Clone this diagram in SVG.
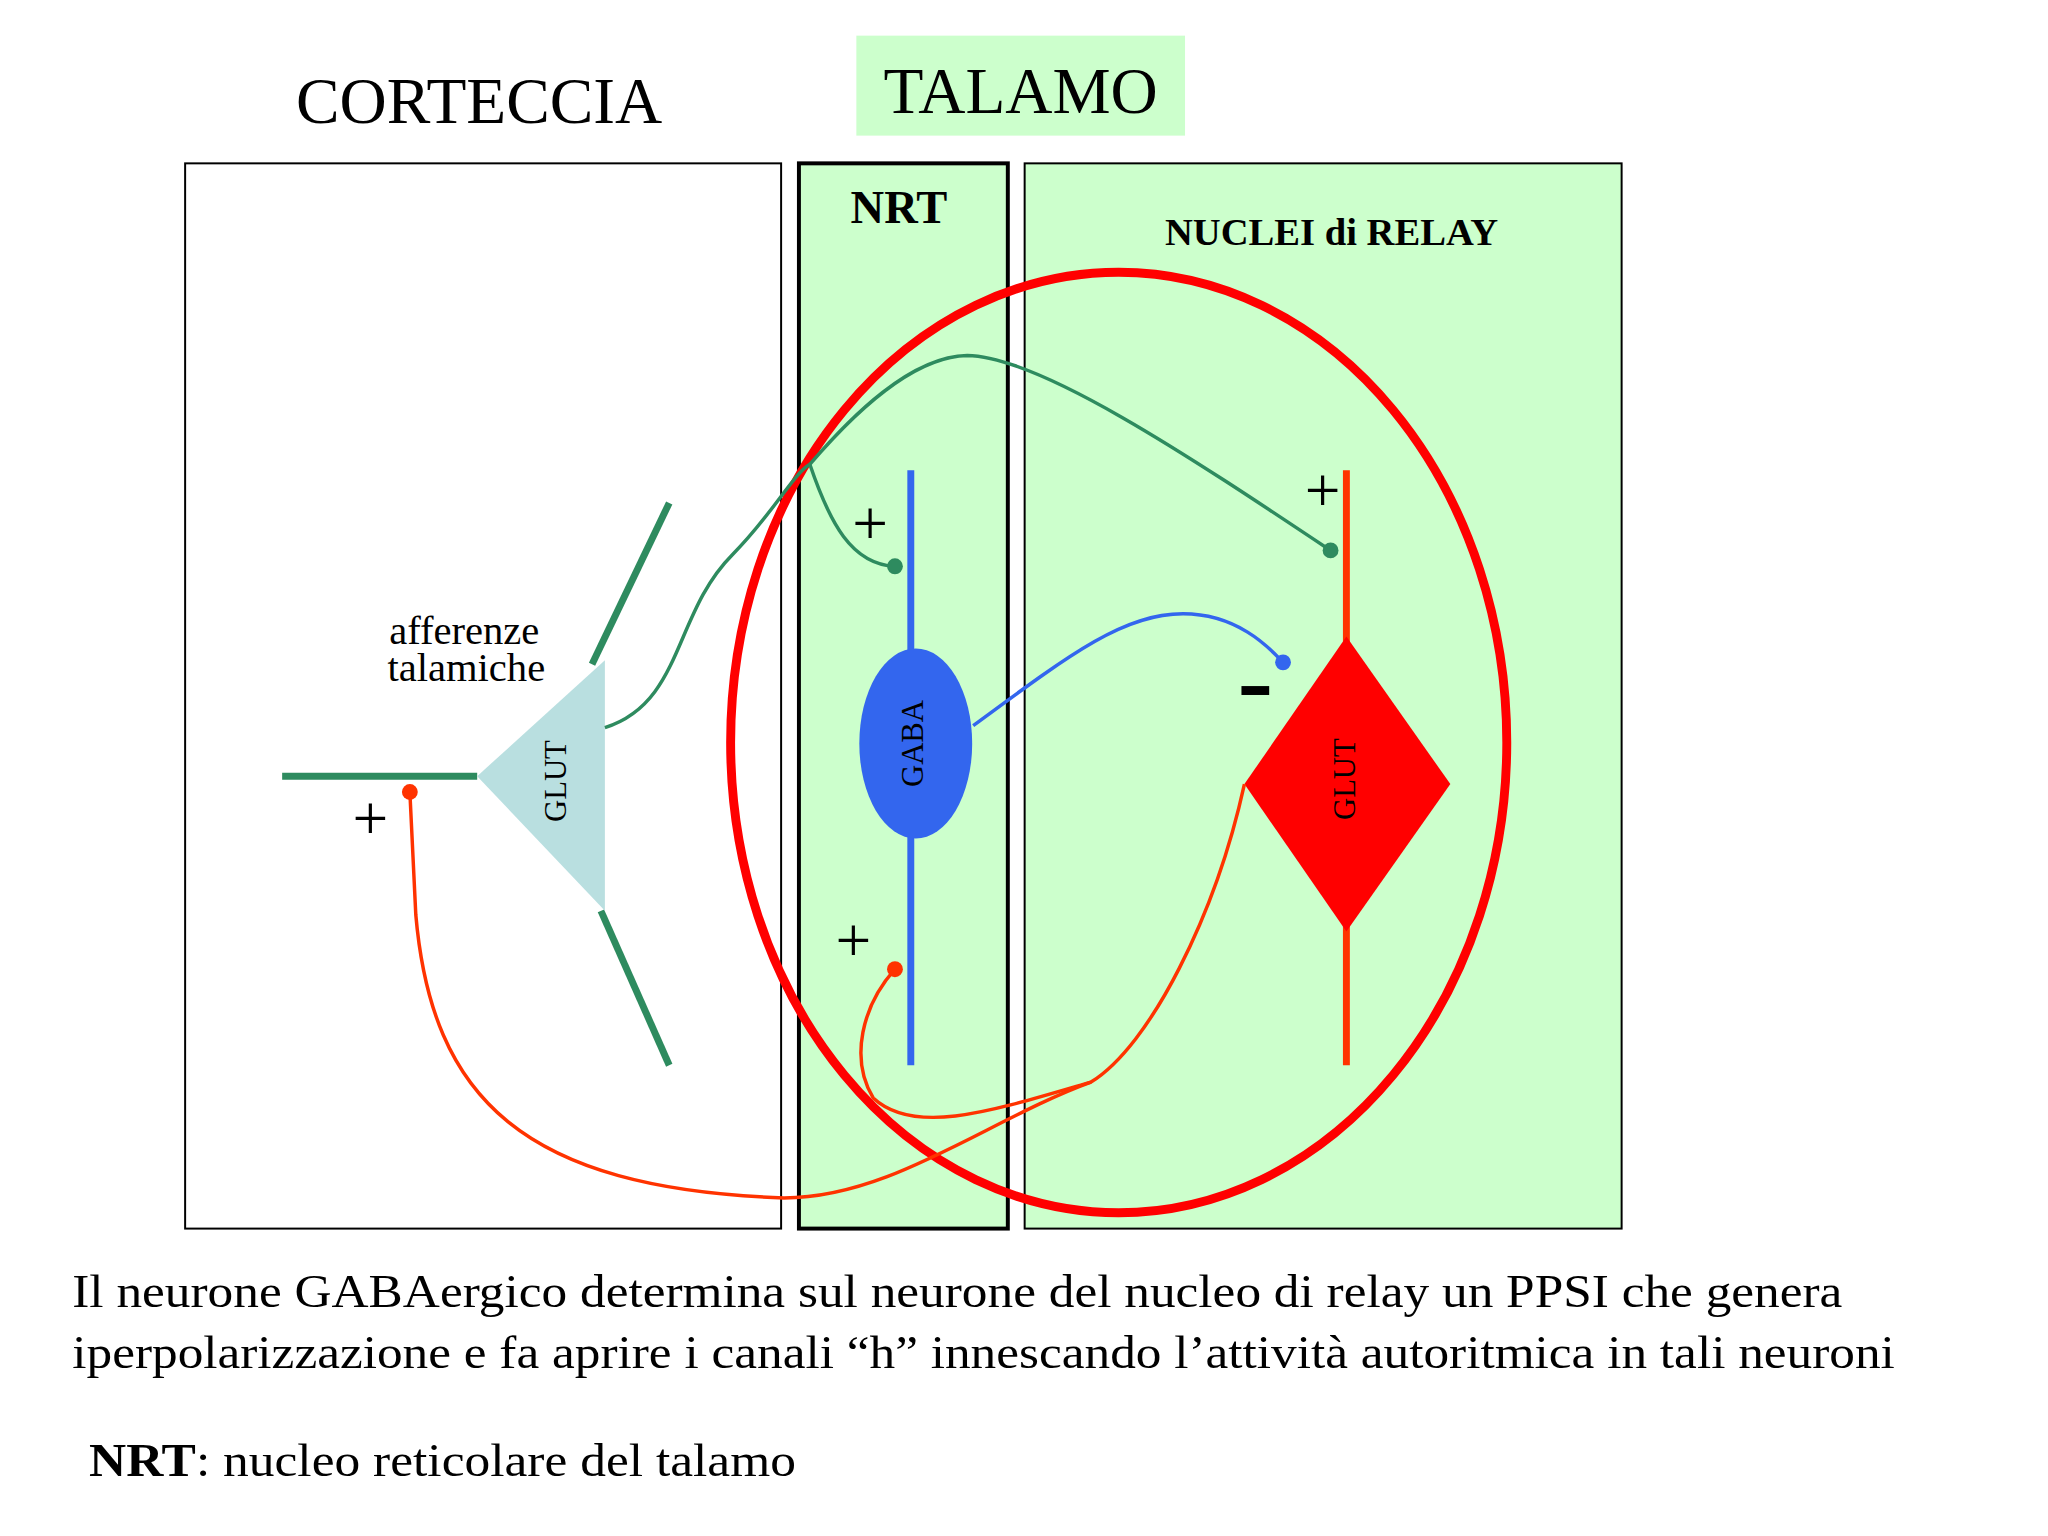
<svg xmlns="http://www.w3.org/2000/svg" width="2048" height="1536" viewBox="0 0 2048 1536">
<style>
text{font-family:"Liberation Serif",serif;fill:#000}
.g{stroke:#2e8b5f;fill:none}
.p{font-size:64px;text-anchor:middle}
</style>
<rect width="2048" height="1536" fill="#fff"/>
<g transform="scale(0.99)">
<g id="corteccia-label"><text x="484" y="124" font-size="66" text-anchor="middle">CORTECCIA</text></g>
<g id="talamo-label"><rect x="865" y="36" width="332" height="101" fill="#ccffcc"/><text x="1031" y="114" font-size="66" text-anchor="middle">TALAMO</text></g>
<g id="cortex-box"><rect x="187" y="165" width="602" height="1076" fill="#fff" stroke="#000" stroke-width="2"/></g>
<g id="nrt-box"><rect x="807" y="165" width="211" height="1076" fill="#ccffcc" stroke="#000" stroke-width="4"/><text x="908" y="225" font-size="47" font-weight="bold" text-anchor="middle">NRT</text></g>
<g id="relay-box"><rect x="1035" y="165" width="603" height="1076" fill="#ccffcc" stroke="#000" stroke-width="2"/><text x="1345" y="247" font-size="39" font-weight="bold" text-anchor="middle">NUCLEI di RELAY</text></g>
<g id="cortex-neuron">
<line x1="285" y1="784" x2="482" y2="784" class="g" stroke-width="7"/>
<line x1="598" y1="671" x2="676" y2="508" class="g" stroke-width="7"/>
<line x1="607" y1="920" x2="676" y2="1076" class="g" stroke-width="7"/>
<polygon points="482,784 611,667 611,920" fill="#b9dfe0"/>
<text transform="translate(565,789) rotate(-90)" font-size="31" text-anchor="middle" dominant-baseline="middle">GLUT</text>
<text x="469" y="651" font-size="41" text-anchor="middle">afferenze</text>
<text x="471" y="688" font-size="41" text-anchor="middle">talamiche</text>
<text x="374" y="848" class="p">+</text>
</g>
<g id="nrt-neuron">
<line x1="920" y1="475" x2="920" y2="1076" stroke="#3366ee" stroke-width="7"/>
<ellipse cx="925" cy="751" rx="57" ry="96" fill="#3366ee"/>
<text transform="translate(925,751) rotate(-90)" font-size="31" text-anchor="middle" dominant-baseline="middle">GABA</text>
<text x="879" y="551" class="p">+</text>
<text x="862" y="972" class="p">+</text>
</g>
<g id="relay-neuron">
<line x1="1360" y1="475" x2="1360" y2="1076" stroke="#ff3300" stroke-width="7"/>
<polygon points="1257,792 1360,643 1465,792 1360,941" fill="#ff0000"/>
<text transform="translate(1362,787) rotate(-90)" font-size="31" text-anchor="middle" dominant-baseline="middle">GLUT</text>
<text x="1336" y="517" class="p">+</text>
<rect x="1254" y="693" width="28" height="9" fill="#000"/>
</g>
<g id="ellipse"><ellipse cx="1130" cy="750" rx="392" ry="475" fill="none" stroke="#ff0000" stroke-width="9"/></g>
<g id="connectors">
<path d="M611,735 C690,710 680,620 740,560 C780,520 800,480 818,469 C860,420 920,360 977,359 C1050,360 1200,460 1344,556" class="g" stroke-width="3.5"/>
<path d="M818,469 C838,528 860,570 904,572" class="g" stroke-width="3.5"/>
<path d="M983,733 C1082,660 1135,620 1195,620 C1254,620 1287,660 1296,669" fill="none" stroke="#3366ee" stroke-width="3.5"/>
<path d="M1257,792 C1228,924 1162,1056 1102,1093 C1000,1130 900,1210 792,1210 C528,1201 436,1109 420,924 L414,800" fill="none" stroke="#ff3300" stroke-width="3.5"/>
<path d="M1102,1093 C1003,1122 924,1148 882,1109 C858,1069 871,1016 904,979" fill="none" stroke="#ff3300" stroke-width="3.5"/>
<circle cx="904" cy="572" r="8" fill="#2e8b5f"/>
<circle cx="1344" cy="556" r="8" fill="#2e8b5f"/>
<circle cx="1296" cy="669" r="8" fill="#3366ee"/>
<circle cx="414" cy="800" r="8" fill="#ff3300"/>
<circle cx="904" cy="979" r="8" fill="#ff3300"/>
</g>
<g id="caption">
<text x="73" y="1320" font-size="46" textLength="1788" lengthAdjust="spacingAndGlyphs">Il neurone GABAergico determina sul neurone del nucleo di relay un PPSI che genera</text>
<text x="73" y="1382" font-size="46" textLength="1841" lengthAdjust="spacingAndGlyphs">iperpolarizzazione e fa aprire i canali “h” innescando l’attività autoritmica in tali neuroni</text>
<text x="90" y="1491" font-size="46" textLength="714" lengthAdjust="spacingAndGlyphs"><tspan font-weight="bold">NRT</tspan>: nucleo reticolare del talamo</text>
</g>
</g>
</svg>
